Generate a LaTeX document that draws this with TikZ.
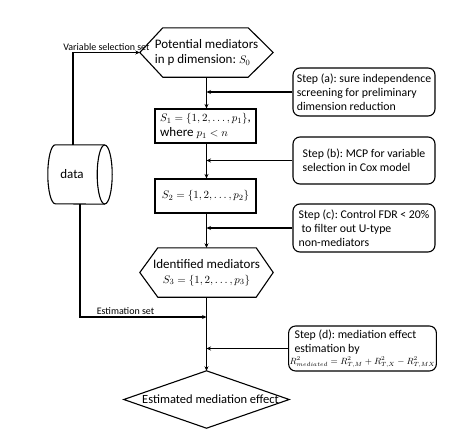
\documentclass[tikz,border=0pt]{standalone}
\usepackage{fontspec}
\setmainfont{Carlito}
\usetikzlibrary{shapes.geometric,arrows.meta,calc}
\newcommand{\msz}{\fontsize{10.8}{13}\selectfont}
\begin{document}
\frenchspacing
\begin{tikzpicture}[x=1pt,y=-1pt,
  steptxt/.style={font=\fontsize{11.8}{14}\selectfont},
  bigtxt/.style={font=\fontsize{13}{15}\selectfont},
  stepbox/.style={draw, shapeline, rounded corners=7pt, minimum width=142pt, minimum height=48pt, align=left, inner sep=1.5pt, steptxt},
  setbox/.style={draw, shapeline, minimum width=101pt, minimum height=34pt, inner sep=2pt, bigtxt, align=left},
  frame/.style={minimum width=133pt, minimum height=49pt, inner sep=0pt, bigtxt},
  shapeline/.style={line width=1.1pt},
  conn/.style={line width=1.4pt},
  arr/.style={conn, -{Stealth[length=4.5pt,width=4pt]}},
  lbl/.style={font=\fontsize{10}{11}\selectfont, inner sep=1pt}
]
\useasboundingbox (0,0) rectangle (474,434);

% hexagon 1
\node[frame, align=left] (h1) at (206.5,52.5) {Potential mediators\\in p dimension: {\msz$S_0$}};
\draw[shapeline] (h1.west) -- ($(h1.north west)+(23,0)$) -- ($(h1.north east)+(-25,0)$) -- (h1.east)
  -- ($(h1.south east)+(-25,0)$) -- ($(h1.south west)+(23,0)$) -- cycle;

% set boxes
\node[setbox] (s1) at (205.5,126) {{\msz$S_1=\{1,2,\ldots,p_1\}$},\\where {\msz$p_1<n$}};
\node[setbox, align=center] (s2) at (205.5,196) {\msz$S_2=\{1,2,\ldots,p_2\}$};

% hexagon 2
\node[frame, align=center] (h2) at (206.5,272.5) {Identified mediators\\{\msz$S_3=\{1,2,\ldots,p_3\}$}};
\draw[shapeline] (h2.west) -- ($(h2.north west)+(18,0)$) -- ($(h2.north east)+(-17,0)$) -- (h2.east)
  -- ($(h2.south east)+(-17,0)$) -- ($(h2.south west)+(18,0)$) -- cycle;

% diamond
\node[minimum width=165pt, minimum height=57pt, inner sep=0pt, font=\fontsize{12.5}{14}\selectfont] (dm) at (206.5,399.5) {\hspace{8pt}Estimated mediation effect};
\draw[shapeline] (dm.north) -- (dm.east) -- (dm.south) -- (dm.west) -- cycle;

% data cylinder
\node[minimum width=64pt, minimum height=59pt, inner sep=0pt, bigtxt] (data) at (80,174.5) {\hspace{-16pt}data};
\draw[shapeline] ($(data.north east)+(-7.5,0)$) -- ($(data.north west)+(7.5,0)$)
  arc[start angle=-90, end angle=-270, x radius=7.5, y radius=29.5] -- ($(data.south east)+(-7.5,0)$);
\draw[shapeline] ($(data.east)+(-7.5,0)$) ellipse[x radius=7.5, y radius=29.5];

% step boxes
\node[stepbox] (sa) at (364,92) {Step (a): sure independence\\screening for preliminary\\dimension reduction};
\node[stepbox, minimum height=47pt] (sb) at (364,160.5) {Step (b): MCP for variable\\selection in Cox model};
\node[stepbox] (sc) at (364,228) {Step (c): Control FDR < 20\%\\\hspace{3pt}to filter out U-type\\non-mediators};
\node[stepbox, minimum width=145pt, minimum height=45pt, inner sep=1pt] (sd) at (362.5,348.5)
  {\hspace{5pt}Step (d): mediation effect\\\hspace{5pt}estimation by\\[-2pt]{\fontsize{9}{10}\selectfont$R^2_{mediated}=R^2_{T,M}+R^2_{T,X}-R^2_{T,MX}$}};

% main flow
\draw[arr] (h1.south) -- (s1.north -| h1.south);
\draw[arr] (s1.south -| h1.south) -- (s2.north -| h1.south);
\draw[arr] (s2.south -| h1.south) -- (h2.north);
\draw[arr] (h2.south) -- (dm.north);

% step arrows
\draw[arr] (sa.west) -- (sa.west -| h1.south);
\draw[arr] (sb.west) -- (sb.west -| h1.south);
\draw[arr] (sc.west) -- (sc.west -| h1.south);
\draw[arr] (sd.west) -- (sd.west -| h1.south);

% data connectors
\coordinate (vtop) at ($(data.north)+(-7,0)$);
\draw[arr] (vtop) |- (h1.west) node[lbl, pos=0.75, above] {Variable selection set};
\coordinate (est) at (206.5,317);
\draw[arr] (data.south) |- (est) node[lbl, pos=0.68, above, yshift=1pt] {Estimation set};
\end{tikzpicture}
\end{document}
